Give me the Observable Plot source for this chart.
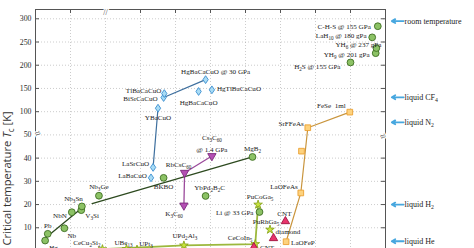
<!DOCTYPE html>
<html><head><meta charset="utf-8">
<script src="https://cdn.jsdelivr.net/npm/d3@7"></script>
<script src="https://cdn.jsdelivr.net/npm/@observablehq/plot@0.6"></script>
<style>html,body{margin:0;padding:0;background:#fff;overflow:hidden}</style>
</head><body><div id="chart"></div>
<script>
// ---------- data ----------
const convNames = ["Hg","Pb","Nb","NbN","V_3Si","Nb_3Sn","Nb_3Ge","BKBO","YbPd_2B_2C","MgB_2","Li @ 33 GPa","H_2S @ 155 GPa","YH_9 @ 201 gPa","YH_6 @ 237 gPa","LaH_{10} @ 180 gPa","C-H-S @ 155 GPa"];
const convYears = [1911,1914,1933,1941.5,1952.3,1953,1972.5,1988.3,1994.3,2001,2002,2015,2018.6,2018.7,2018.1,2018.9];
const convTc    = [4.5,7.4,9.8,16.7,17.6,19.2,23.8,31.5,23.7,40.5,16.8,206,226,237,260,284];

const cupNames = ["LaBaCuO","LaSrCuO","YBaCuO","BiSrCaCuO","TlBaCaCuO","HgBaCaCuO","HgBaCaCuO @ 30 GPa","HgTlBaCaCuO"];
const cupYears = [1986.5,1986.8,1987.5,1988.3,1988.4,1993.3,1994.3,1995.2];
const cupTc    = [31.5,36,107.5,130.5,139,143.5,169,147];

const fulNames = ["K_3C_{60}","RbCsC_{60}","Cs_3C_{60}\n@ 1.4 GPa"];
const fulYears = [1991.2,1991.3,1995.2];
const fulTc    = [19.6,33.7,40.9];

const hfNames = ["CeCu_2Si_2","UBe_{13}","UPt_3","UPd_2Al_3","CeCoIn_5","PuRhGa_5","PuCoGa_5"];
const hfYears = [1976.5,1983,1984.5,1991.2,2001.4,2003.5,2001.8];
const hfTc    = [0.8,0.9,0.6,2.4,3.0,9.2,20];

const carbNames = ["CNT ","diamond","CNT"];
const carbYears = [2001.2,2004,2005.7];
const carbTc    = [1.6,5.5,12.8];

const feNames = ["LaOFeP","LaOFeAs","","SrFFeAs","FeSe  1ml"];
const feYears = [2005.8,2007.9,2008,2008.9,2014.9];
const feTc    = [4,25,43,65.5,99];

// trend lines
const convTrendYears = [[1911,1953],[1964.7,2001]];
const convTrendTc    = [[5.5,18.5],[20.4,40.5]];
const cupTrendYears  = [[1986.8,1987.5],[1988.3,1994.3]];
const cupTrendTc     = [[36,107.5],[130.5,169]];
const hfTrendNames   = ["CeCu_2Si_2","UPd_2Al_3","CeCoIn_5","PuCoGa_5"];
const feTrendNames   = ["LaOFeP","LaOFeAs","SrFFeAs","FeSe  1ml"];
const fulTrendNames  = ["K_3C_{60}","RbCsC_{60}","Cs_3C_{60}\n@ 1.4 GPa"];

// reference temperatures (right side)
const refNames = ["room temperature","liquid CF_4","liquid N_2","liquid H_2","liquid He"];
const refTemps = [295,131,77,20,4.2];

// axes
const yTicks = [10,20,30,40,50,100,150,200,250,300];
const xTicks = [1940,1980,1985,1990,1995,2000,2005,2010,2015];
const yLabel = "Critical temperature *T*_c [K]";

// ---------- layout / style ----------
const W = 474, H = 248, ML = 35, MR = 89, MT = 9;
const SERIF = "'Liberation Serif','Times New Roman',serif";
const SANS = "'Open Sans','DejaVu Sans',sans-serif";
// broken axes: years before 1980 compressed 8x, temperatures above 50 K compressed 5x
const xBreak = t => t < 1980 ? 1980 - (1980 - t) / 8 : t;
const yBreak = t => t <= 50 ? t : 50 + (t - 50) / 5;

const place = {
  "Hg":["start",4,6],"Pb":["middle",0,-8.5],"Nb":["start",3,7],"NbN":["end",-5,3],
  "V_3Si":["start",4,5],"Nb_3Sn":["end",1,-8],"Nb_3Ge":["middle",0,-9.5],"BKBO":["middle",0,8.5],
  "YbPd_2B_2C":["middle",4,-9],"MgB_2":["middle",0,-8.5],"Li @ 33 GPa":["end",-6,0.5],
  "H_2S @ 155 GPa":["end",-10,4],"YH_9 @ 201 gPa":["end",-6,0.5],"YH_6 @ 237 gPa":["end",5,-4],
  "LaH_{10} @ 180 gPa":["end",-5.5,-2],"C-H-S @ 155 GPa":["end",-7,0],
  "LaBaCuO":["end",-4,-2.5],"LaSrCuO":["end",-4,-4],"YBaCuO":["middle",0,8.5],
  "BiSrCaCuO":["end",-6,0.5],"TlBaCaCuO":["end",-3,-4],"HgBaCaCuO":["middle",0,10.5],
  "HgBaCaCuO @ 30 GPa":["middle",10,-8.5],"HgTlBaCaCuO":["start",5,-2],
  "K_3C_{60}":["end",-1,8],"RbCsC_{60}":["middle",-6,-9],"Cs_3C_{60}\n@ 1.4 GPa":["middle",0,-14],
  "CeCu_2Si_2":["end",-2,-7],"UBe_{13}":["middle",-3,-7],"UPt_3":["middle",9,-7],
  "UPd_2Al_3":["middle",1,-10],"CeCoIn_5":["end",-3,-7],"PuRhGa_5":["middle",-4,-8.5],"PuCoGa_5":["middle",2,-8.5],
  "CNT ":["start",6,-0.5],"diamond":["start",2,-7],"CNT":["middle",-1,-8.5],
  "LaOFeP":["start",5,0.5],"LaOFeAs":["end",-3,-6.5],"SrFFeAs":["end",-4,-5],"FeSe  1ml":["end",-4,-7]
};

function rows(fam, names, years, tc) { return names.map((n,i)=>({fam, name:n, year:years[i], tc:tc[i]})); }
const conv = rows("conv", convNames, convYears, convTc);
const cup  = rows("cup", cupNames, cupYears, cupTc);
const ful  = rows("ful", fulNames, fulYears, fulTc);
const hf   = rows("hf", hfNames, hfYears, hfTc);
const carb = rows("carb", carbNames, carbYears, carbTc);
const fe   = rows("fe", feNames, feYears, feTc);
const all = [...conv, ...cup, ...ful, ...hf, ...carb, ...fe];
const byName = (arr, names) => names.map(n => arr.find(d => d.name === n));

function segs(yearsArr, tcArr) {
  const out = [];
  yearsArr.forEach((ys, k) => ys.forEach((y, i) => out.push({g:k, year:y, tc:tcArr[k][i]})));
  return out;
}

const tallDiamond = { draw(ctx, size) { const r = Math.sqrt(size/Math.PI); const h=r*1.15, w=r*0.78;
  ctx.moveTo(0,-h); ctx.lineTo(w,0); ctx.lineTo(0,h); ctx.lineTo(-w,0); ctx.closePath(); } };

const labelMarks = all.filter(d => place[d.name]).map(d => {
  const [a, dx, dy] = place[d.name];
  return Plot.text([d], {x:"year", y:"tc", text:"name", textAnchor:a, dx, dy,
    fontSize: 7.1, fontFamily: SERIF, fill:"#222", lineHeight: 1.3});
});

const chart = Plot.plot({
  width: W, height: H, marginLeft: ML, marginRight: MR, marginTop: MT, marginBottom: 0,
  x: {transform: xBreak, domain: [1970, 2020], range: [ML, W - MR], axis: null},
  y: {transform: yBreak, domain: [0, 104], range: [250.5, MT], axis: null},
  style: {fontFamily: SERIF, background: "#fff", overflow: "visible", color: "#222"},
  marks: [
    Plot.gridY(yTicks, {stroke:"#8a8a8a", strokeOpacity:0.55, strokeDasharray:"1,2", strokeWidth:0.8}),
    Plot.gridX(xTicks, {stroke:"#8a8a8a", strokeOpacity:0.55, strokeDasharray:"1,2", strokeWidth:0.8}),
    // trend lines
    Plot.line(segs(convTrendYears, convTrendTc), {x:"year", y:"tc", z:"g", stroke:"#2d4a1f", strokeWidth:1.3}),
    Plot.line(segs(cupTrendYears, cupTrendTc), {x:"year", y:"tc", z:"g", stroke:"#3e6f9e", strokeWidth:1.2}),
    Plot.line(byName(ful, fulTrendNames), {x:"year", y:"tc", stroke:"#9b4a9b", strokeWidth:1.3}),
    Plot.line(byName(hf, hfTrendNames), {x:"year", y:"tc", stroke:"#9cb83c", strokeWidth:1.8}),
    Plot.line(byName(fe, feTrendNames), {x:"year", y:"tc", stroke:"#c9953d", strokeWidth:1.2}),
    // markers
    Plot.dot(conv, {x:"year", y:"tc", r:3.4, fill:"#8cc265", stroke:"#3e6e22", strokeWidth:0.9}),
    Plot.dot(cup, {x:"year", y:"tc", r:3.4, symbol: tallDiamond, fill:"#a9dcf5", stroke:"#3b8ed0", strokeWidth:0.9}),
    Plot.dot(ful, {x:"year", y:"tc", r:3.1, symbol:"triangle", rotate:180, fill:"#b44fb4", stroke:"#7b2a7b", strokeWidth:0.9}),
    Plot.dot(hf, {x:"year", y:"tc", r:2.7, symbol:"star", fill:"#c6e33c", stroke:"#8aa61c", strokeWidth:0.9}),
    Plot.dot(carb, {x:"year", y:"tc", r:3.1, symbol:"triangle", fill:"#e8336b", stroke:"#a0123f", strokeWidth:0.9}),
    Plot.dot(fe, {x:"year", y:"tc", r:3.2, symbol:"square", fill:"#fdd27e", stroke:"#eba032", strokeWidth:0.9}),
    ...labelMarks,
    // frame (left, top, right) and inward ticks
    Plot.ruleX([1900, 2020], {stroke:"#555", strokeWidth:1}),
    Plot.ruleY([320], {stroke:"#555", strokeWidth:1}),
    Plot.tickX(xTicks, {x:d=>d, insetBottom: H - MT - 4, stroke:"#555"}),
    Plot.tickY(yTicks, {y:d=>d, insetRight: (W - MR - ML) - 4, stroke:"#555"}),
    Plot.tickY(yTicks, {y:d=>d, insetLeft: (W - MR - ML) - 4, stroke:"#555"}),
    Plot.axisY(yTicks, {anchor:"left", tickSize:0, tickPadding:4, fontSize:7.8, fontFamily:SERIF, fill:"#2a2a2a", label:null}),
    // axis breaks
    Plot.text([50], {y:d=>d, frameAnchor:"left", text:()=>"≈", fontSize:10, fill:"#444", stroke:"#fff", strokeWidth:2.5, paintOrder:"stroke", rotate:-30}),
    Plot.text([50], {y:d=>d, frameAnchor:"right", text:()=>"≈", fontSize:10, fill:"#444", stroke:"#fff", strokeWidth:2.5, paintOrder:"stroke", rotate:-30}),
    Plot.text([1980], {x:d=>d, frameAnchor:"top", text:()=>"//", fontSize:8, fill:"#444", stroke:"#fff", strokeWidth:2.5, paintOrder:"stroke"}),
    // y label, anchored at the bottom of the frame and reading upwards
    Plot.text([yLabel], {frameAnchor:"bottom-left", text:d=>d, rotate:-90, textAnchor:"start", dx:-25, dy:-3, fontSize:11.2, fontFamily:SANS, fill:"#333"}),
    // reference temperatures
    Plot.arrow(refTemps, {x1:2022.6, x2:2020.9, y1:d=>d, y2:d=>d, stroke:"#47a7df", strokeWidth:1.8, headLength:5}),
    Plot.text(refNames.map((n,i)=>({n, t:refTemps[i]})), {frameAnchor:"right", y:"t", text:"n", dx:19, textAnchor:"start", fontSize:8, fontFamily:SERIF, fill:"#222"})
  ]
});
document.getElementById("chart").appendChild(chart);

// rich text: _x subscripts, *x* italics
function richify(el) {
  const s = el.textContent;
  if (!/[_*]/.test(s)) return;
  const fs = parseFloat(getComputedStyle(el).fontSize) || 8;
  const sh = +(fs * 0.28).toFixed(2);
  el.textContent = "";
  const re = /_\{([^}]*)\}|_([0-9]+|[a-z])|\*([^*]+)\*|([^_*]+)/g;
  let m, down = false;
  const NS = "http://www.w3.org/2000/svg";
  while ((m = re.exec(s))) {
    const t = document.createElementNS(NS, "tspan");
    if (m[1] !== undefined || m[2] !== undefined) {
      t.textContent = m[1] !== undefined ? m[1] : m[2];
      t.setAttribute("font-size", (fs*0.72).toFixed(2));
      if (!down) { t.setAttribute("dy", sh); down = true; }
    } else {
      t.textContent = m[3] !== undefined ? m[3] : m[4];
      if (m[3] !== undefined) t.setAttribute("font-style", "italic");
      if (down) { t.setAttribute("dy", -sh); down = false; }
    }
    el.appendChild(t);
  }
}
chart.querySelectorAll("text").forEach(el => {
  const kids = el.querySelectorAll("tspan");
  if (kids.length) kids.forEach(richify); else richify(el);
});
</script></body></html>
